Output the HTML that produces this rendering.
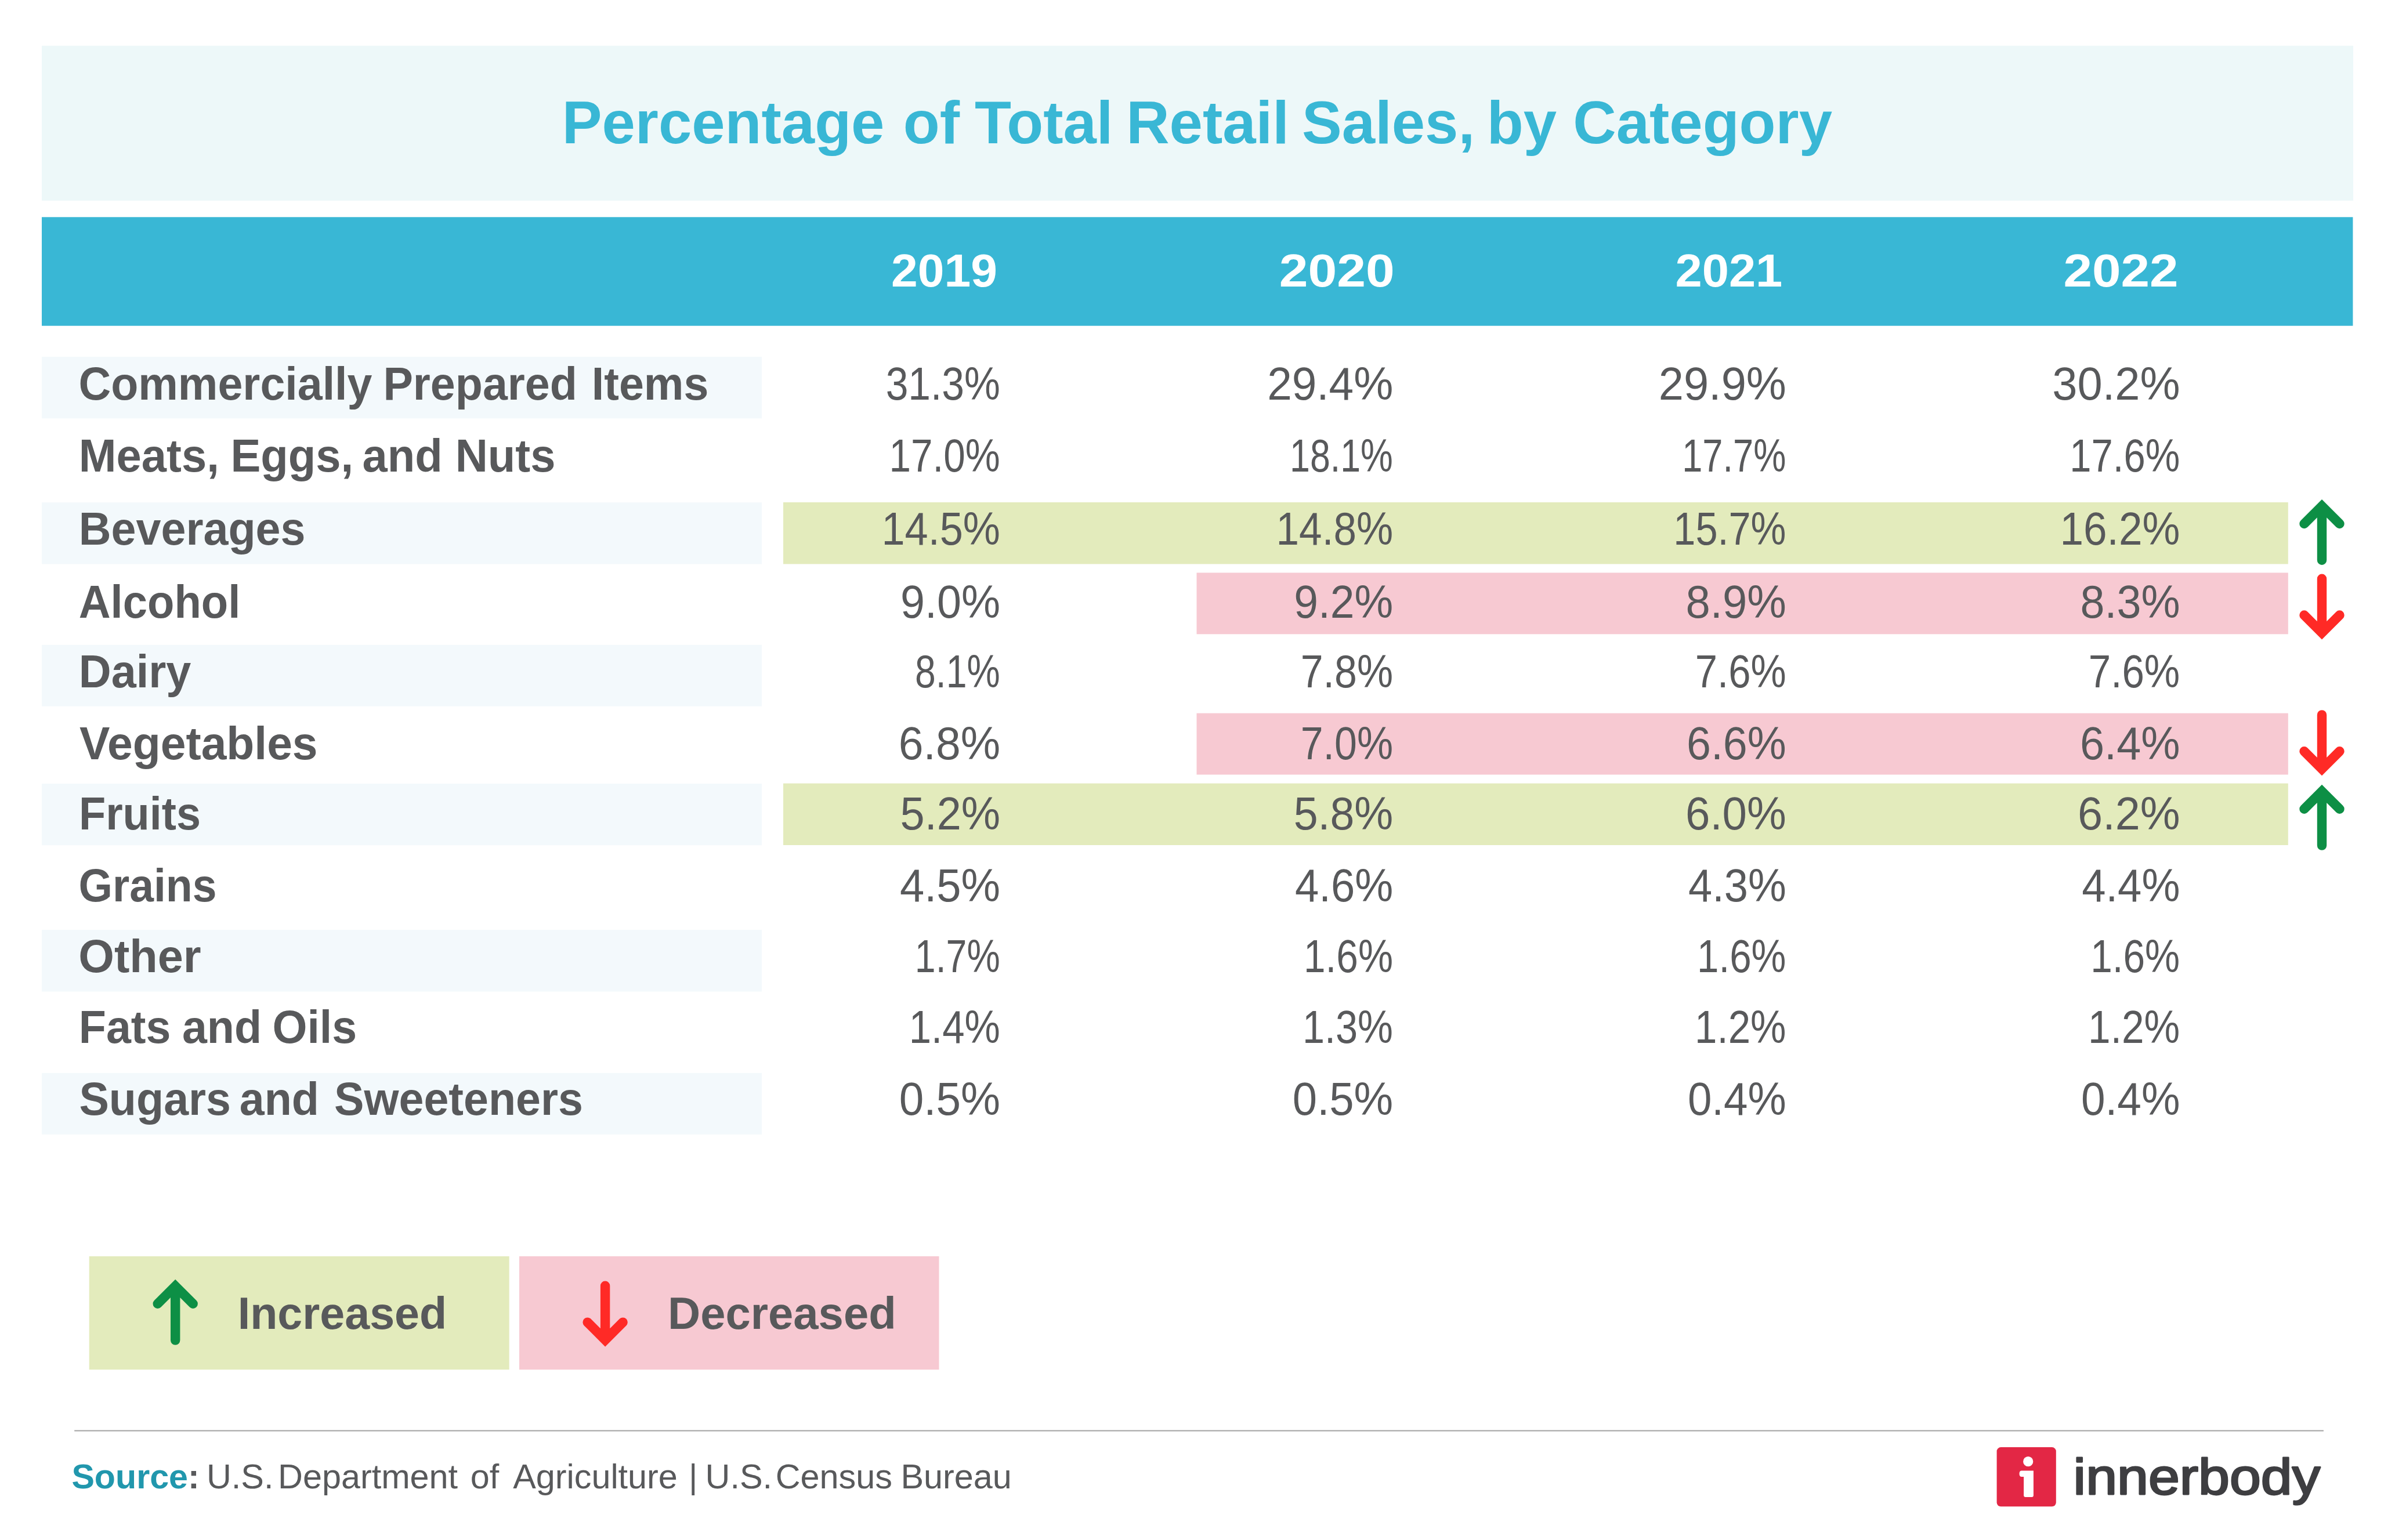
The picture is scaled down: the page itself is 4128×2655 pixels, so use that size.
<!DOCTYPE html>
<html lang="en"><head><meta charset="utf-8"><title>Percentage of Total Retail Sales, by Category</title>
<style>
html,body{margin:0;padding:0;background:#fff;}
svg{display:block;}
text{font-family:"Liberation Sans", Arial, Helvetica, sans-serif;}
.b{font-weight:bold;}
</style></head><body>
<svg width="4128" height="2655" viewBox="0 0 4128 2655">
<rect x="0" y="0" width="4128" height="2655" fill="#ffffff"/>
<rect x="72" y="78.8" width="3984" height="267.1" fill="#EDF8F9" />
<rect x="72" y="374.3" width="3983.4" height="187.4" fill="#39B7D5" />
<rect x="72" y="615.2" width="1241" height="106.2" fill="#F3F9FC" />
<rect x="72" y="866.2" width="1241" height="106.3" fill="#F3F9FC" />
<rect x="72" y="1111.7" width="1241" height="106" fill="#F3F9FC" />
<rect x="72" y="1351" width="1241" height="106.3" fill="#F3F9FC" />
<rect x="72" y="1603.1" width="1241" height="106.4" fill="#F3F9FC" />
<rect x="72" y="1849.9" width="1241" height="106" fill="#F3F9FC" />
<rect x="1350" y="866" width="2593.8" height="106.4" fill="#E3EBBC" />
<rect x="2062.5" y="987.4" width="1881.3" height="105.9" fill="#F7C9D2" />
<rect x="2062.5" y="1229.6" width="1881.3" height="105.9" fill="#F7C9D2" />
<rect x="1350" y="1350.6" width="2593.8" height="106.4" fill="#E3EBBC" />
<rect x="153.7" y="2165.8" width="724" height="195.5" fill="#E3EBBC" />
<rect x="895" y="2165.8" width="723.5" height="195.5" fill="#F7C9D2" />
<rect x="128.2" y="2465.6" width="3876.7" height="2" fill="#A2A2A2" />
<path d="M3971.5,903.0 L4002.0,872.5 L4032.5,903.0 M4002.0,876.5 L4002.0,965.8" fill="none" stroke="#0D8F45" stroke-width="16.4" stroke-linecap="round" stroke-linejoin="miter"/>
<path d="M3971.5,1060.5 L4002.0,1091.0 L4032.5,1060.5 M4002.0,1087.0 L4002.0,997.7" fill="none" stroke="#FF2A26" stroke-width="16.4" stroke-linecap="round" stroke-linejoin="miter"/>
<path d="M3971.5,1295.2 L4002.0,1325.7 L4032.5,1295.2 M4002.0,1321.7 L4002.0,1232.4" fill="none" stroke="#FF2A26" stroke-width="16.4" stroke-linecap="round" stroke-linejoin="miter"/>
<path d="M3971.5,1394.8 L4002.0,1364.3 L4032.5,1394.8 M4002.0,1368.3 L4002.0,1457.6" fill="none" stroke="#0D8F45" stroke-width="16.4" stroke-linecap="round" stroke-linejoin="miter"/>
<path d="M271.7,2247.8 L302.2,2217.3 L332.7,2247.8 M302.2,2221.3 L302.2,2310.6" fill="none" stroke="#0D8F45" stroke-width="16.4" stroke-linecap="round" stroke-linejoin="miter"/>
<path d="M1012.6,2279.6 L1043.1,2310.1 L1073.6,2279.6 M1043.1,2306.1 L1043.1,2216.8" fill="none" stroke="#FF2A26" stroke-width="16.4" stroke-linecap="round" stroke-linejoin="miter"/>
<rect x="3441.6" y="2495.1" width="102.2" height="102.2" rx="7" ry="7" fill="#E32745"/>
<circle cx="3495.7" cy="2519.7" r="8.6" fill="#ffffff"/>
<path d="M3484.5,2535.5 H3504.9 V2578.1 Q3504.9,2581.1 3501.9,2581.1 H3491.1 Q3488.1,2581.1 3488.1,2578.1 V2546.1 H3484.5 Q3480.5,2546.1 3480.5,2540.8 Q3480.5,2535.5 3484.5,2535.5 Z" fill="#ffffff"/>
<text class="b" xml:space="preserve" transform="translate(968.81,246.9) scale(0.9957,1)" font-size="103.5" fill="#39B7D5" >Percentage <tspan x="590.43">of </tspan><tspan x="714.26">Total </tspan><tspan x="976.61">Retail </tspan><tspan x="1280.82">Sales, </tspan><tspan x="1600.95">by </tspan><tspan x="1750.05">Category</tspan></text>
<text class="b" xml:space="preserve" transform="translate(1536.05,493.6) scale(1.0361,1)" font-size="79.4" fill="#FFFFFF" >2019</text>
<text class="b" xml:space="preserve" transform="translate(2204.70,493.6) scale(1.1264,1)" font-size="79.4" fill="#FFFFFF" >2020</text>
<text class="b" xml:space="preserve" transform="translate(2887.52,493.6) scale(1.0462,1)" font-size="79.4" fill="#FFFFFF" >2021</text>
<text class="b" xml:space="preserve" transform="translate(3556.52,493.6) scale(1.1207,1)" font-size="79.4" fill="#FFFFFF" >2022</text>
<text class="b" xml:space="preserve" transform="translate(135.44,688.7) scale(0.9792,1)" font-size="78.8" fill="#58595B" >Commercially <tspan x="536.12">Prepared </tspan><tspan x="903.16">Items</tspan></text>
<text class="b" xml:space="preserve" transform="translate(135.80,813.0) scale(0.9866,1)" font-size="78.8" fill="#58595B" >Meats, <tspan x="265.23">Eggs, </tspan><tspan x="495.32">and </tspan><tspan x="657.66">Nuts</tspan></text>
<text class="b" xml:space="preserve" transform="translate(135.83,938.8) scale(0.9799,1)" font-size="78.8" fill="#58595B" >Beverages</text>
<text class="b" xml:space="preserve" transform="translate(135.71,1064.8) scale(0.9645,1)" font-size="78.8" fill="#58595B" >Alcohol</text>
<text class="b" xml:space="preserve" transform="translate(135.82,1184.6) scale(0.9821,1)" font-size="78.8" fill="#58595B" >Dairy</text>
<text class="b" xml:space="preserve" transform="translate(137.06,1309.0) scale(0.9971,1)" font-size="78.8" fill="#58595B" >Vegetables</text>
<text class="b" xml:space="preserve" transform="translate(135.94,1430.1) scale(0.9601,1)" font-size="78.8" fill="#58595B" >Fruits</text>
<text class="b" xml:space="preserve" transform="translate(135.52,1553.7) scale(0.9536,1)" font-size="78.8" fill="#58595B" >Grains</text>
<text class="b" xml:space="preserve" transform="translate(135.35,1675.6) scale(1.0057,1)" font-size="78.8" fill="#58595B" >Other</text>
<text class="b" xml:space="preserve" transform="translate(135.84,1798.1) scale(0.9789,1)" font-size="78.8" fill="#58595B" >Fats <tspan x="181.90">and </tspan><tspan x="340.76">Oils</tspan></text>
<text class="b" xml:space="preserve" transform="translate(136.38,1921.8) scale(0.9794,1)" font-size="78.8" fill="#58595B" >Sugars <tspan x="282.25">and </tspan><tspan x="448.86">Sweeteners</tspan></text>
<text xml:space="preserve" transform="translate(1526.65,688.7) scale(0.8749,1)" font-size="79.5" fill="#58595B" >31.3%</text>
<text xml:space="preserve" transform="translate(2184.15,688.7) scale(0.9635,1)" font-size="79.5" fill="#58595B" >29.4%</text>
<text xml:space="preserve" transform="translate(2858.80,688.7) scale(0.9763,1)" font-size="79.5" fill="#58595B" >29.9%</text>
<text xml:space="preserve" transform="translate(3537.24,688.7) scale(0.9774,1)" font-size="79.5" fill="#58595B" >30.2%</text>
<text xml:space="preserve" transform="translate(1532.56,813.0) scale(0.8484,1)" font-size="79.5" fill="#58595B" >17.0%</text>
<text xml:space="preserve" transform="translate(2223.02,813.0) scale(0.7888,1)" font-size="79.5" fill="#58595B" >18.1%</text>
<text xml:space="preserve" transform="translate(2899.19,813.0) scale(0.7948,1)" font-size="79.5" fill="#58595B" >17.7%</text>
<text xml:space="preserve" transform="translate(3567.30,813.0) scale(0.8424,1)" font-size="79.5" fill="#58595B" >17.6%</text>
<text xml:space="preserve" transform="translate(1519.51,938.8) scale(0.9070,1)" font-size="79.5" fill="#58595B" >14.5%</text>
<text xml:space="preserve" transform="translate(2199.59,938.8) scale(0.8941,1)" font-size="79.5" fill="#58595B" >14.8%</text>
<text xml:space="preserve" transform="translate(2884.28,938.8) scale(0.8618,1)" font-size="79.5" fill="#58595B" >15.7%</text>
<text xml:space="preserve" transform="translate(3550.44,938.8) scale(0.9181,1)" font-size="79.5" fill="#58595B" >16.2%</text>
<text xml:space="preserve" transform="translate(1552.06,1064.8) scale(0.9494,1)" font-size="79.5" fill="#58595B" >9.0%</text>
<text xml:space="preserve" transform="translate(2230.18,1064.8) scale(0.9442,1)" font-size="79.5" fill="#58595B" >9.2%</text>
<text xml:space="preserve" transform="translate(2905.60,1064.8) scale(0.9559,1)" font-size="79.5" fill="#58595B" >8.9%</text>
<text xml:space="preserve" transform="translate(3585.62,1064.8) scale(0.9485,1)" font-size="79.5" fill="#58595B" >8.3%</text>
<text xml:space="preserve" transform="translate(1577.00,1184.6) scale(0.8095,1)" font-size="79.5" fill="#58595B" >8.1%</text>
<text xml:space="preserve" transform="translate(2241.72,1184.6) scale(0.8795,1)" font-size="79.5" fill="#58595B" >7.8%</text>
<text xml:space="preserve" transform="translate(2921.77,1184.6) scale(0.8652,1)" font-size="79.5" fill="#58595B" >7.6%</text>
<text xml:space="preserve" transform="translate(3599.86,1184.6) scale(0.8686,1)" font-size="79.5" fill="#58595B" >7.6%</text>
<text xml:space="preserve" transform="translate(1548.79,1309.0) scale(0.9677,1)" font-size="79.5" fill="#58595B" >6.8%</text>
<text xml:space="preserve" transform="translate(2241.72,1309.0) scale(0.8795,1)" font-size="79.5" fill="#58595B" >7.0%</text>
<text xml:space="preserve" transform="translate(2906.97,1309.0) scale(0.9482,1)" font-size="79.5" fill="#58595B" >6.6%</text>
<text xml:space="preserve" transform="translate(3585.06,1309.0) scale(0.9516,1)" font-size="79.5" fill="#58595B" >6.4%</text>
<text xml:space="preserve" transform="translate(1551.57,1430.1) scale(0.9521,1)" font-size="79.5" fill="#58595B" >5.2%</text>
<text xml:space="preserve" transform="translate(2229.69,1430.1) scale(0.9470,1)" font-size="79.5" fill="#58595B" >5.8%</text>
<text xml:space="preserve" transform="translate(2905.03,1430.1) scale(0.9591,1)" font-size="79.5" fill="#58595B" >6.0%</text>
<text xml:space="preserve" transform="translate(3581.07,1430.1) scale(0.9740,1)" font-size="79.5" fill="#58595B" >6.2%</text>
<text xml:space="preserve" transform="translate(1550.96,1553.7) scale(0.9556,1)" font-size="79.5" fill="#58595B" >4.5%</text>
<text xml:space="preserve" transform="translate(2232.00,1553.7) scale(0.9340,1)" font-size="79.5" fill="#58595B" >4.6%</text>
<text xml:space="preserve" transform="translate(2910.10,1553.7) scale(0.9306,1)" font-size="79.5" fill="#58595B" >4.3%</text>
<text xml:space="preserve" transform="translate(3588.20,1553.7) scale(0.9340,1)" font-size="79.5" fill="#58595B" >4.4%</text>
<text xml:space="preserve" transform="translate(1576.79,1675.6) scale(0.8107,1)" font-size="79.5" fill="#58595B" >1.7%</text>
<text xml:space="preserve" transform="translate(2246.95,1675.6) scale(0.8502,1)" font-size="79.5" fill="#58595B" >1.6%</text>
<text xml:space="preserve" transform="translate(2925.07,1675.6) scale(0.8467,1)" font-size="79.5" fill="#58595B" >1.6%</text>
<text xml:space="preserve" transform="translate(3603.15,1675.6) scale(0.8502,1)" font-size="79.5" fill="#58595B" >1.6%</text>
<text xml:space="preserve" transform="translate(1566.75,1798.1) scale(0.8670,1)" font-size="79.5" fill="#58595B" >1.4%</text>
<text xml:space="preserve" transform="translate(2244.88,1798.1) scale(0.8618,1)" font-size="79.5" fill="#58595B" >1.3%</text>
<text xml:space="preserve" transform="translate(2921.04,1798.1) scale(0.8693,1)" font-size="79.5" fill="#58595B" >1.2%</text>
<text xml:space="preserve" transform="translate(3599.11,1798.1) scale(0.8728,1)" font-size="79.5" fill="#58595B" >1.2%</text>
<text xml:space="preserve" transform="translate(1549.71,1921.8) scale(0.9625,1)" font-size="79.5" fill="#58595B" >0.5%</text>
<text xml:space="preserve" transform="translate(2227.83,1921.8) scale(0.9574,1)" font-size="79.5" fill="#58595B" >0.5%</text>
<text xml:space="preserve" transform="translate(2908.89,1921.8) scale(0.9374,1)" font-size="79.5" fill="#58595B" >0.4%</text>
<text xml:space="preserve" transform="translate(3586.98,1921.8) scale(0.9409,1)" font-size="79.5" fill="#58595B" >0.4%</text>
<text class="b" xml:space="preserve" transform="translate(409.73,2291.0) scale(0.9899,1)" font-size="78" fill="#58595B" >Increased</text>
<text class="b" xml:space="preserve" transform="translate(1151.10,2291.0) scale(0.9975,1)" font-size="78" fill="#58595B" >Decreased</text>
<text xml:space="preserve" transform="translate(3573.62,2576.0) scale(1.1199,1)" font-size="86.5" fill="#3E3E41" stroke="#3E3E41" stroke-width="2.8" stroke-linejoin="round">innerbody</text>
<text class="b" xml:space="preserve" transform="translate(123.40,2566.1) scale(0.9944,1)" font-size="59.5" fill="#58595B" ><tspan fill="#2197AD">Source</tspan>:</text>
<text xml:space="preserve" transform="translate(356.02,2566.1) scale(0.9975,1)" font-size="59.5" fill="#58595B" >U.S. <tspan x="123.38">Department </tspan><tspan x="455.89">of </tspan><tspan x="529.54">Agriculture </tspan><tspan x="833.18">| </tspan><tspan x="861.71">U.S. </tspan><tspan x="983.11">Census </tspan><tspan x="1199.47">Bureau</tspan></text>
</svg>
</body></html>
